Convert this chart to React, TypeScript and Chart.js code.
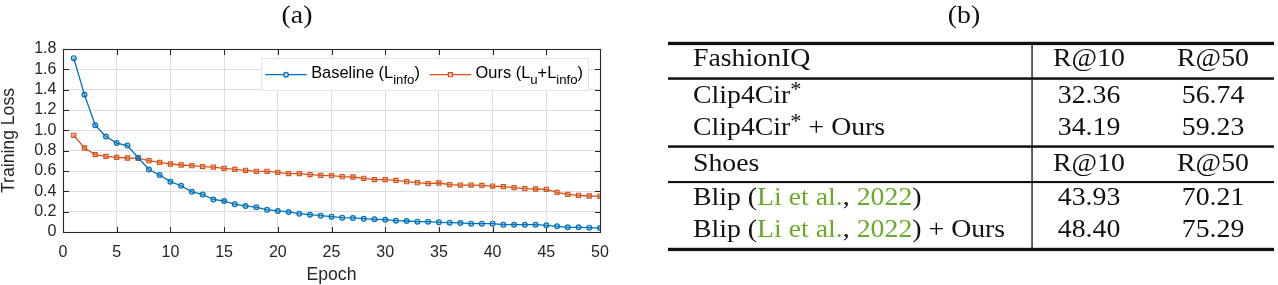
import React, { useEffect, useRef } from 'react';
import { Chart, registerables } from 'chart.js';

Chart.register(...registerables);

// ---------------- data ----------------
const epochs = [
  1, 2, 3, 4, 5, 6, 7, 8, 9, 10, 11, 12, 13, 14, 15, 16, 17, 18, 19, 20, 21, 22, 23, 24, 25,
  26, 27, 28, 29, 30, 31, 32, 33, 34, 35, 36, 37, 38, 39, 40, 41, 42, 43, 44, 45, 46, 47, 48, 49, 50,
];
const baselineLoss = [
  1.71, 1.35, 1.05, 0.94, 0.875, 0.85, 0.73, 0.615, 0.56, 0.495,
  0.455, 0.395, 0.37, 0.32, 0.305, 0.272, 0.256, 0.243, 0.22, 0.207,
  0.197, 0.18, 0.17, 0.161, 0.151, 0.141, 0.138, 0.131, 0.125, 0.121,
  0.111, 0.108, 0.102, 0.102, 0.095, 0.092, 0.089, 0.082, 0.082, 0.082,
  0.072, 0.072, 0.072, 0.072, 0.066, 0.056, 0.046, 0.046, 0.043, 0.039,
];
const oursLoss = [
  0.951, 0.826, 0.761, 0.744, 0.734, 0.728, 0.725, 0.702, 0.685, 0.669,
  0.659, 0.652, 0.643, 0.639, 0.626, 0.616, 0.607, 0.597, 0.597, 0.587,
  0.574, 0.574, 0.565, 0.557, 0.554, 0.544, 0.541, 0.528, 0.515, 0.515,
  0.508, 0.495, 0.485, 0.475, 0.482, 0.466, 0.462, 0.462, 0.459, 0.452,
  0.446, 0.436, 0.426, 0.423, 0.42, 0.39, 0.37, 0.361, 0.354, 0.351,
];
const xAxisMin = 0;
const xAxisMax = 50;
const xStep = 5;
const yAxisMin = 0;
const yAxisMax = 1.8;
const yStep = 0.2;
const xTitle = 'Epoch';
const yTitle = 'Training Loss';
// legend labels: [text, isSubscript]
const legendBaseline: [string, boolean][] = [['Baseline (L', false], ['info', true], [')', false]];
const legendOurs: [string, boolean][] = [['Ours (L', false], ['u', true], ['+L', false], ['info', true], [')', false]];

// table values
const metricNames = ['R@10', 'R@50'];
const fashionR10 = [32.36, 34.19];
const fashionR50 = [56.74, 59.23];
const shoesR10 = [43.93, 48.4];
const shoesR50 = [70.21, 75.29];

// ---------------- styles ----------------
const BLUE = '#0072BD';
const BLUE_FILL = 'rgba(0,114,189,0.28)';
const ORANGE = '#D95319';
const ORANGE_FILL = 'rgba(217,83,25,0.28)';
const AXIS = '#262626';
const GRID = '#dedede';
const SANS = '"Liberation Sans", Arial, Helvetica, sans-serif';
const SERIF = '"Liberation Serif", "Times New Roman", Times, serif';
const GREEN = '#6aaa2a';
const INK = '#111111';

const boxPlugin = {
  id: 'matlabBox',
  beforeDatasetsDraw(chart: any) {
    const { ctx, chartArea: a, scales } = chart;
    const xs = scales.x;
    const ys = scales.y;
    const L = Math.round(a.left) + 0.5;
    const R = Math.round(a.right) + 0.5;
    const T = Math.round(a.top) + 0.5;
    const B = Math.round(a.bottom) + 0.5;
    const tl = 5.5;
    ctx.save();
    ctx.strokeStyle = AXIS;
    ctx.lineWidth = 1;
    ctx.beginPath();
    for (const t of xs.ticks) {
      const px = Math.round(xs.getPixelForValue(t.value)) + 0.5;
      ctx.moveTo(px, B);
      ctx.lineTo(px, B - tl);
      ctx.moveTo(px, T);
      ctx.lineTo(px, T + tl);
    }
    for (const t of ys.ticks) {
      const py = Math.round(ys.getPixelForValue(t.value)) + 0.5;
      ctx.moveTo(L, py);
      ctx.lineTo(L + tl, py);
      ctx.moveTo(R, py);
      ctx.lineTo(R - tl, py);
    }
    ctx.stroke();
    ctx.lineWidth = 1.1;
    ctx.strokeRect(L, T, R - L, B - T);
    ctx.restore();
  },
};

function drawMarker(ctx: CanvasRenderingContext2D, style: string, x: number, y: number, color: string, fill: string) {
  ctx.save();
  ctx.lineWidth = 1.2;
  ctx.strokeStyle = color;
  ctx.beginPath();
  if (style === 'circle') {
    ctx.arc(x, y, 2.4, 0, Math.PI * 2);
  } else {
    ctx.rect(x - 2.05, y - 2.05, 4.1, 4.1);
  }
  ctx.fillStyle = '#ffffff';
  ctx.fill();
  ctx.fillStyle = fill;
  ctx.fill();
  ctx.stroke();
  ctx.restore();
}

const legendPlugin = {
  id: 'matlabLegend',
  afterDraw(chart: any) {
    const { ctx, chartArea: a } = chart;
    const mainFont = `16.4px ${SANS}`;
    const subFont = `13.2px ${SANS}`;
    const items = [
      { color: BLUE, fill: BLUE_FILL, style: 'circle', parts: legendBaseline },
      { color: ORANGE, fill: ORANGE_FILL, style: 'rect', parts: legendOurs },
    ];
    const lineLen = 41.6;
    const gap = 4.4;
    const itemGap = 9.7;
    const padL = 4.4;
    const padR = 5;
    ctx.save();
    const widths = items.map((it) =>
      it.parts.reduce((s, [t, sub]) => {
        ctx.font = sub ? subFont : mainFont;
        return s + ctx.measureText(t).width;
      }, 0),
    );
    const total = padL + widths.reduce((s, w) => s + lineLen + gap + w, 0) + itemGap * (items.length - 1) + padR;
    const right = a.right - 12;
    const left = right - total;
    const top = a.top + 9;
    const h = 32.4;
    ctx.fillStyle = '#ffffff';
    ctx.fillRect(left, top, total, h);
    ctx.strokeStyle = '#e4e4e4';
    ctx.lineWidth = 1;
    ctx.strokeRect(Math.round(left) + 0.5, Math.round(top) + 0.5, Math.round(total), Math.round(h));
    let x = left + padL;
    const lineY = top + 16.7;
    const baseY = top + 20.4;
    items.forEach((it, i) => {
      ctx.strokeStyle = it.color;
      ctx.lineWidth = 1.3;
      ctx.beginPath();
      ctx.moveTo(x, lineY);
      ctx.lineTo(x + lineLen, lineY);
      ctx.stroke();
      drawMarker(ctx, it.style, x + lineLen / 2, lineY, it.color, it.fill);
      x += lineLen + gap;
      ctx.fillStyle = '#000000';
      ctx.textBaseline = 'alphabetic';
      ctx.textAlign = 'left';
      for (const [t, sub] of it.parts) {
        ctx.font = sub ? subFont : mainFont;
        ctx.fillText(t, x, sub ? baseY + 5.6 : baseY);
        x += ctx.measureText(t).width;
      }
      if (i < items.length - 1) x += itemGap;
    });
    ctx.restore();
  },
};

function LossChart() {
  const ref = useRef<HTMLCanvasElement | null>(null);
  useEffect(() => {
    if (!ref.current) return;
    const chart = new Chart(ref.current, {
      type: 'line',
      data: {
        datasets: [
          {
            label: 'Baseline',
            data: epochs.map((e, i) => ({ x: e, y: baselineLoss[i] })),
            borderColor: BLUE,
            backgroundColor: BLUE_FILL,
            pointBackgroundColor: BLUE_FILL,
            pointBorderColor: BLUE,
            pointStyle: 'circle',
            pointRadius: 2.4,
            pointBorderWidth: 1.2,
            borderWidth: 1.3,
            tension: 0,
          },
          {
            label: 'Ours',
            data: epochs.map((e, i) => ({ x: e, y: oursLoss[i] })),
            borderColor: ORANGE,
            backgroundColor: ORANGE_FILL,
            pointBackgroundColor: ORANGE_FILL,
            pointBorderColor: ORANGE,
            pointStyle: 'rect',
            pointRadius: 2.9,
            pointBorderWidth: 1.2,
            borderWidth: 1.3,
            tension: 0,
          },
        ],
      },
      options: {
        animation: false,
        responsive: false,
        maintainAspectRatio: false,
        devicePixelRatio: 1,
        events: [],
        layout: { padding: { top: 49, right: 40, left: 0, bottom: 0 } },
        plugins: {
          legend: { display: false },
          tooltip: { enabled: false },
          title: { display: false },
        },
        scales: {
          x: {
            type: 'linear',
            min: xAxisMin,
            max: xAxisMax,
            ticks: {
              stepSize: xStep,
              color: AXIS,
              font: { family: SANS, size: 16 },
              padding: 11,
              maxRotation: 0,
              autoSkip: false,
            },
            grid: { color: GRID, drawTicks: false, lineWidth: 1 },
            border: { display: false },
            title: {
              display: true,
              text: xTitle,
              color: AXIS,
              font: { family: SANS, size: 17.6, lineHeight: 1 },
              padding: { top: 0, bottom: 1 },
            },
            afterFit: (s: any) => {
              s.height = 53;
            },
          },
          y: {
            type: 'linear',
            min: yAxisMin,
            max: yAxisMax,
            ticks: {
              stepSize: yStep,
              color: AXIS,
              font: { family: SANS, size: 16 },
              padding: 6.6,
              autoSkip: false,
              callback: (v: any) => (Number(v) === 0 ? '0' : Number(v).toFixed(1)),
            },
            grid: { color: GRID, drawTicks: false, lineWidth: 1 },
            border: { display: false },
            title: {
              display: true,
              text: yTitle,
              color: AXIS,
              font: { family: SANS, size: 17.6, lineHeight: 1 },
              padding: { top: 0, bottom: 0 },
            },
            afterFit: (s: any) => {
              s.width = 63;
            },
          },
        },
      },
      plugins: [boxPlugin, legendPlugin],
    } as any);
    return () => chart.destroy();
  }, []);
  return (
    <canvas
      ref={ref}
      width={640}
      height={285}
      style={{ position: 'absolute', left: 0, top: 0, width: 640, height: 285 }}
    />
  );
}

const SX = 1.07;
function T(props: { x: number; y: number; anchor?: string; size?: number; children: React.ReactNode }) {
  const { x, y, anchor = 'start', size = 26, children } = props;
  return (
    <text
      transform={`translate(${x} ${y}) scale(${SX} 1)`}
      textAnchor={anchor as any}
      fontFamily={SERIF}
      fontSize={size}
      fill={INK}
    >
      {children}
    </text>
  );
}

function Star() {
  return (
    <tspan fontSize={21} dy={-7}>
      *
    </tspan>
  );
}

function Table() {
  const LX = 693;
  const C1 = 1089;
  const C2 = 1213;
  const left = 668;
  const right = 1274;
  const vx = 1032;
  const rules = [
    { y: 41.8, h: 3.3 },
    { y: 77.3, h: 2.5 },
    { y: 145.3, h: 2.5 },
    { y: 181, h: 2.1 },
    { y: 247.8, h: 3.3 },
  ];
  return (
    <svg
      width={1278}
      height={285}
      style={{ position: 'absolute', left: 0, top: 0, pointerEvents: 'none' }}
    >
      <T x={297} y={23.3} anchor="middle">(a)</T>
      <T x={964} y={23.3} anchor="middle">(b)</T>
      {rules.map((r, i) => (
        <rect key={i} x={left} y={r.y} width={right - left} height={r.h} fill={INK} />
      ))}
      <rect x={vx - 0.6} y={42} width={1.3} height={208} fill={INK} />

      <T x={LX} y={66}>FashionIQ</T>
      <T x={C1} y={66} anchor="middle">{metricNames[0]}</T>
      <T x={C2} y={66} anchor="middle">{metricNames[1]}</T>

      <T x={LX} y={103}>
        Clip4Cir
        <Star />
      </T>
      <T x={C1} y={103} anchor="middle">{fashionR10[0].toFixed(2)}</T>
      <T x={C2} y={103} anchor="middle">{fashionR50[0].toFixed(2)}</T>

      <T x={LX} y={135}>
        Clip4Cir
        <Star />
        <tspan dy={7}>{' + Ours'}</tspan>
      </T>
      <T x={C1} y={135} anchor="middle">{fashionR10[1].toFixed(2)}</T>
      <T x={C2} y={135} anchor="middle">{fashionR50[1].toFixed(2)}</T>

      <T x={LX} y={171}>Shoes</T>
      <T x={C1} y={171} anchor="middle">{metricNames[0]}</T>
      <T x={C2} y={171} anchor="middle">{metricNames[1]}</T>

      <T x={LX} y={205}>
        {'Blip ('}
        <tspan fill={GREEN}>Li et al.</tspan>
        {', '}
        <tspan fill={GREEN}>2022</tspan>
        {')'}
      </T>
      <T x={C1} y={205} anchor="middle">{shoesR10[0].toFixed(2)}</T>
      <T x={C2} y={205} anchor="middle">{shoesR50[0].toFixed(2)}</T>

      <T x={LX} y={237}>
        {'Blip ('}
        <tspan fill={GREEN}>Li et al.</tspan>
        {', '}
        <tspan fill={GREEN}>2022</tspan>
        {') + Ours'}
      </T>
      <T x={C1} y={237} anchor="middle">{shoesR10[1].toFixed(2)}</T>
      <T x={C2} y={237} anchor="middle">{shoesR50[1].toFixed(2)}</T>
    </svg>
  );
}

export default function App() {
  return (
    <div
      style={{
        position: 'absolute',
        left: 0,
        top: 0,
        width: 1278,
        height: 285,
        background: '#ffffff',
        overflow: 'hidden',
      }}
    >
      <LossChart />
      <Table />
    </div>
  );
}
